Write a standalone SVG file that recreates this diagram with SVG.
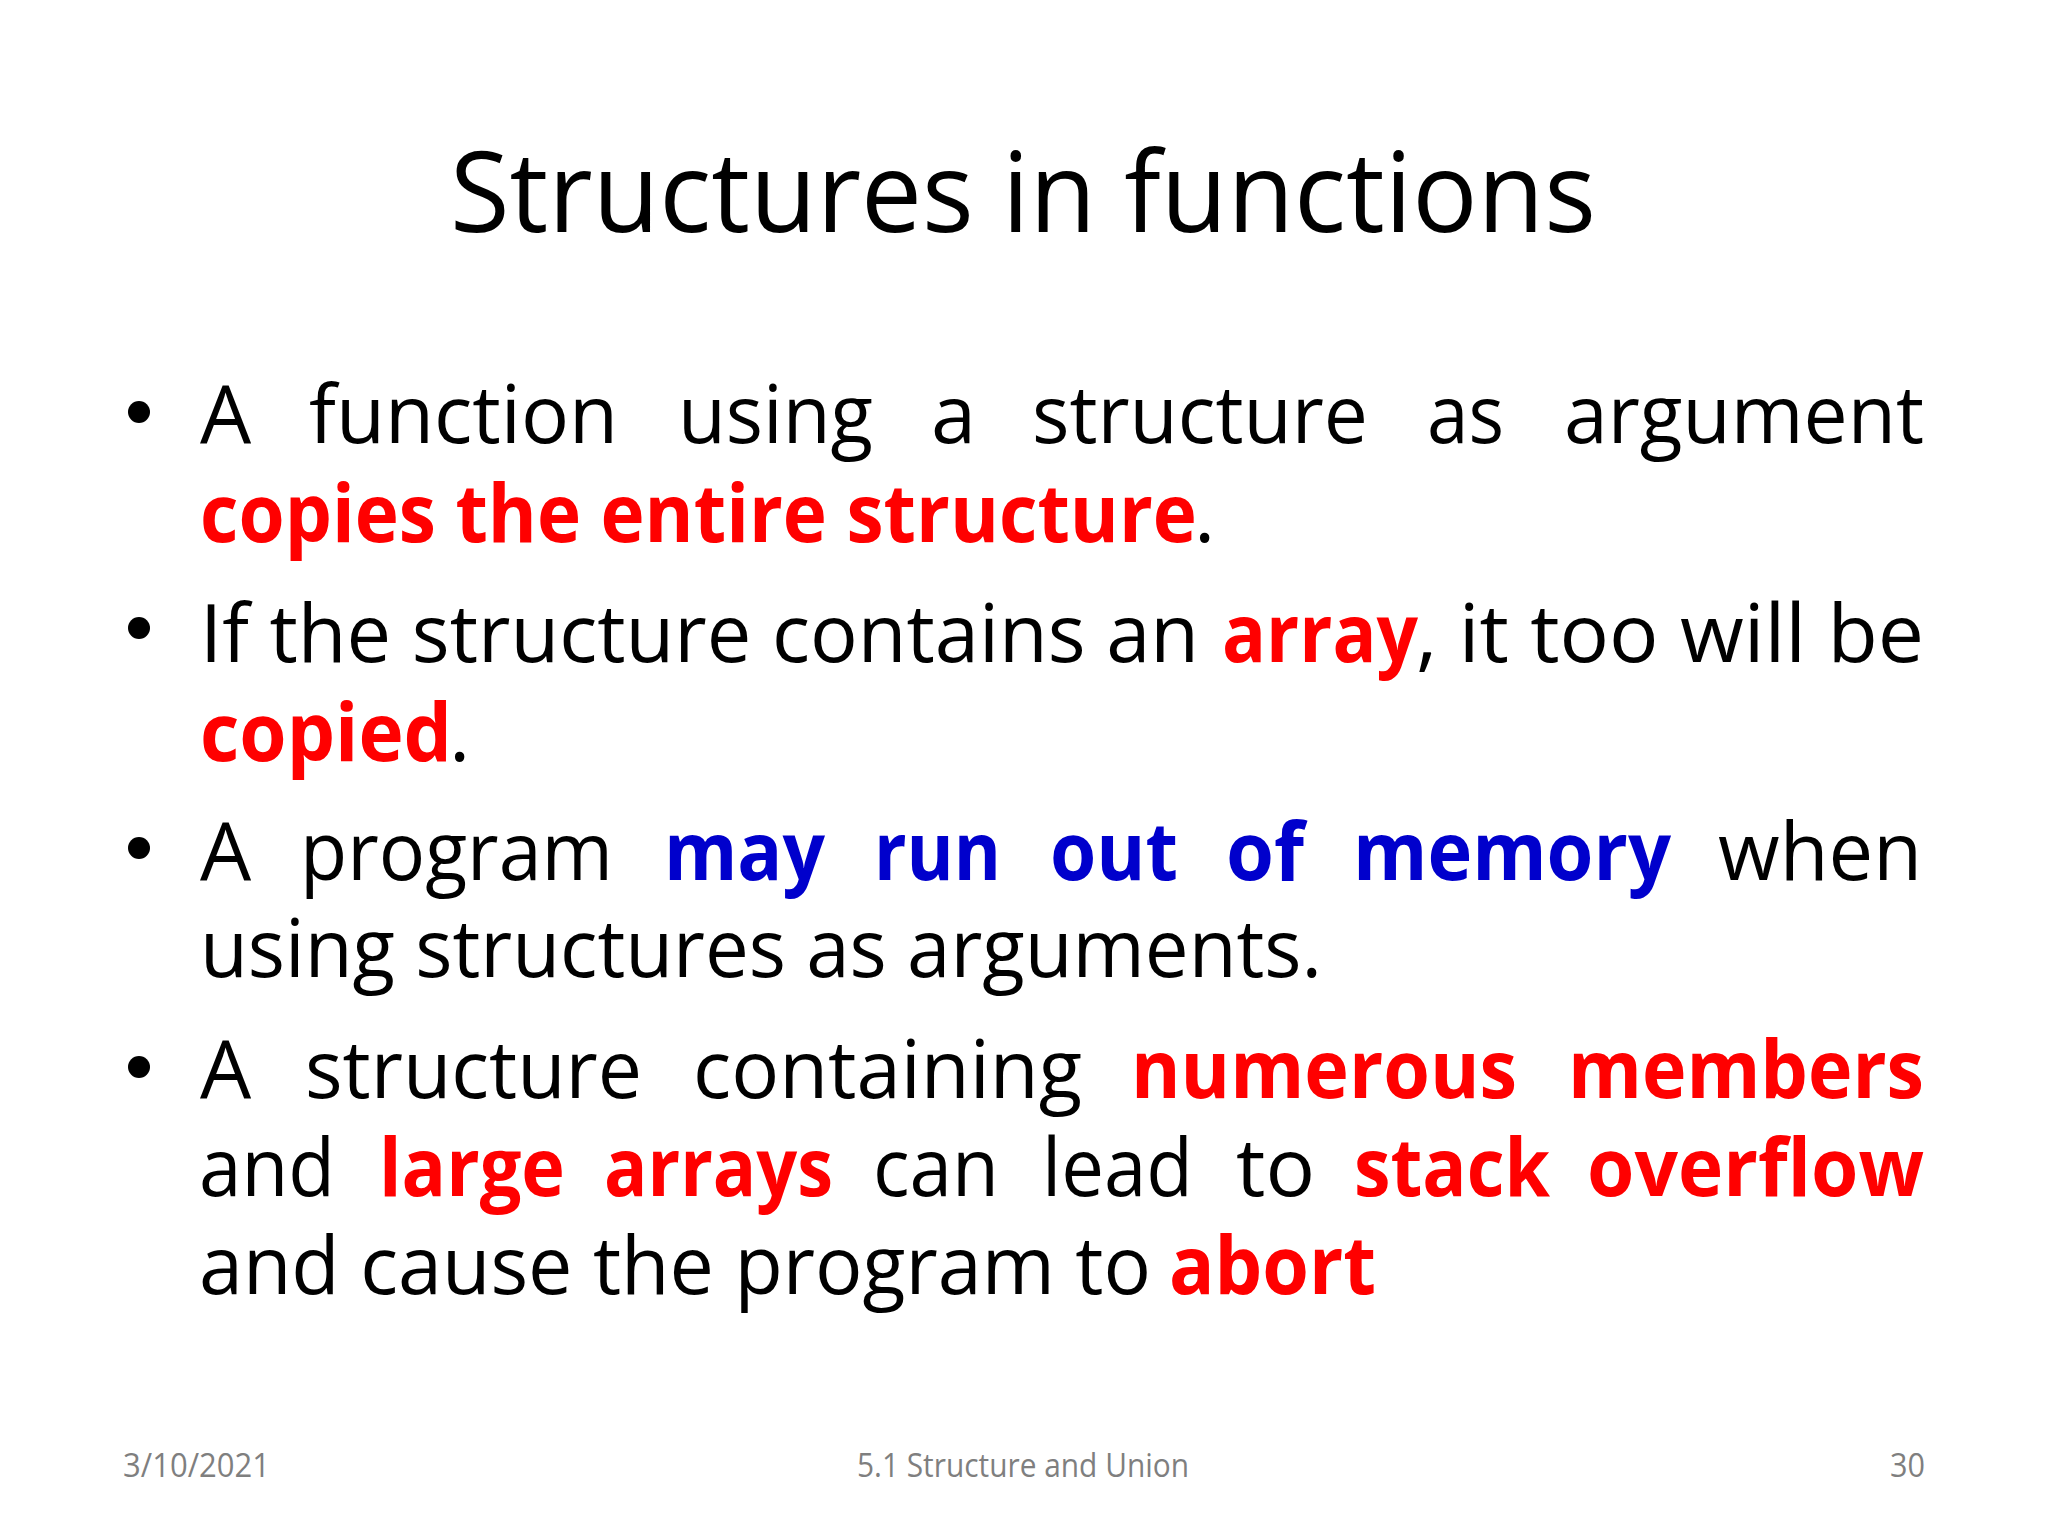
<svg xmlns="http://www.w3.org/2000/svg" width="2048" height="1536" viewBox="0 0 2048 1536">
<style>
text{font-family:"Open Sans","Noto Sans","Liberation Sans",sans-serif}
.title{font-size:112px;fill:#000}
.t{font-size:81px;fill:#000}
.r{font-size:81px;font-weight:bold;fill:#ff0000}
.b{font-size:81px;font-weight:bold;fill:#0000cc}
.foot{font-size:32px;fill:#7f7f7f}
.dot{fill:#000}
</style>
<rect width="2048" height="1536" fill="#ffffff"/>
<g id="title">
<text class="title" x="450" y="232" textLength="1146" lengthAdjust="spacingAndGlyphs">Structures in functions</text>
</g>
<g id="bullet1">
<circle class="dot" cx="139" cy="412" r="11"/>
<text class="t" x="200" y="443">A</text>
<text class="t" x="309" y="443" textLength="309" lengthAdjust="spacingAndGlyphs">function</text>
<text class="t" x="678" y="443" textLength="195" lengthAdjust="spacingAndGlyphs">using</text>
<text class="t" x="931" y="443">a</text>
<text class="t" x="1032" y="443" textLength="336" lengthAdjust="spacingAndGlyphs">structure</text>
<text class="t" x="1427" y="443" textLength="77" lengthAdjust="spacingAndGlyphs">as</text>
<text class="t" x="1564" y="443" textLength="360" lengthAdjust="spacingAndGlyphs">argument</text>
<text class="r" x="200" y="542" textLength="997" lengthAdjust="spacingAndGlyphs">copies the entire structure</text>
<text class="t" x="1194" y="542">.</text>
</g>
<g id="bullet2">
<circle class="dot" cx="139" cy="628" r="11"/>
<text class="t" x="200" y="662" textLength="999" lengthAdjust="spacingAndGlyphs">If the structure contains an</text>
<text class="r" x="1222" y="662" textLength="196" lengthAdjust="spacingAndGlyphs">array</text>
<text class="t" x="1416" y="662" textLength="508" lengthAdjust="spacingAndGlyphs">, it too will be</text>
<text class="r" x="200" y="761" textLength="252" lengthAdjust="spacingAndGlyphs">copied</text>
<text class="t" x="449" y="761">.</text>
</g>
<g id="bullet3">
<circle class="dot" cx="139" cy="848" r="11"/>
<text class="t" x="200" y="880">A</text>
<text class="t" x="300" y="880" textLength="313" lengthAdjust="spacingAndGlyphs">program</text>
<text class="b" x="664" y="880" textLength="161" lengthAdjust="spacingAndGlyphs">may</text>
<text class="b" x="874" y="880" textLength="127" lengthAdjust="spacingAndGlyphs">run</text>
<text class="b" x="1050" y="880" textLength="128" lengthAdjust="spacingAndGlyphs">out</text>
<text class="b" x="1226" y="880" textLength="78" lengthAdjust="spacingAndGlyphs">of</text>
<text class="b" x="1353" y="880" textLength="318" lengthAdjust="spacingAndGlyphs">memory</text>
<text class="t" x="1718" y="880" textLength="204" lengthAdjust="spacingAndGlyphs">when</text>
<text class="t" x="200" y="977" textLength="1122" lengthAdjust="spacingAndGlyphs">using structures as arguments.</text>
</g>
<g id="bullet4">
<circle class="dot" cx="139" cy="1067" r="11"/>
<text class="t" x="200" y="1098">A</text>
<text class="t" x="305" y="1098" textLength="337" lengthAdjust="spacingAndGlyphs">structure</text>
<text class="t" x="693" y="1098" textLength="389" lengthAdjust="spacingAndGlyphs">containing</text>
<text class="r" x="1131" y="1098" textLength="386" lengthAdjust="spacingAndGlyphs">numerous</text>
<text class="r" x="1568" y="1098" textLength="356" lengthAdjust="spacingAndGlyphs">members</text>
<text class="t" x="199" y="1196" textLength="136" lengthAdjust="spacingAndGlyphs">and</text>
<text class="r" x="379" y="1196" textLength="186" lengthAdjust="spacingAndGlyphs">large</text>
<text class="r" x="604" y="1196" textLength="229" lengthAdjust="spacingAndGlyphs">arrays</text>
<text class="t" x="873" y="1196" textLength="126" lengthAdjust="spacingAndGlyphs">can</text>
<text class="t" x="1042" y="1196" textLength="151" lengthAdjust="spacingAndGlyphs">lead</text>
<text class="t" x="1236" y="1196" textLength="79" lengthAdjust="spacingAndGlyphs">to</text>
<text class="r" x="1354" y="1196" textLength="196" lengthAdjust="spacingAndGlyphs">stack</text>
<text class="r" x="1587" y="1196" textLength="337" lengthAdjust="spacingAndGlyphs">overflow</text>
<text class="t" x="199" y="1294" textLength="952" lengthAdjust="spacingAndGlyphs">and cause the program to</text>
<text class="r" x="1169" y="1294" textLength="207" lengthAdjust="spacingAndGlyphs">abort</text>
</g>
<g id="footer">
<text class="foot" x="123" y="1477" textLength="147" lengthAdjust="spacingAndGlyphs">3/10/2021</text>
<text class="foot" x="857" y="1477" textLength="332" lengthAdjust="spacingAndGlyphs">5.1 Structure and Union</text>
<text class="foot" x="1890" y="1477" textLength="35" lengthAdjust="spacingAndGlyphs">30</text>
</g>
</svg>
